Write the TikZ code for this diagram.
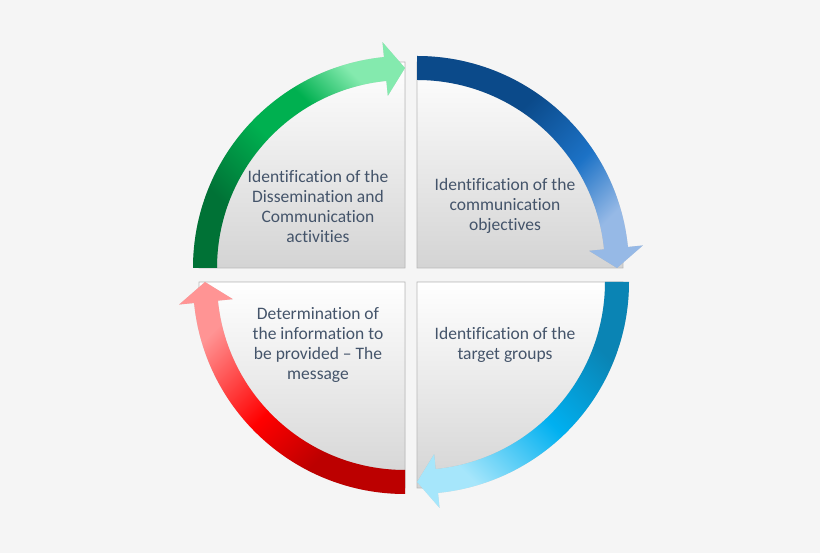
\documentclass[tikz,border=0pt]{standalone}
\usepackage{fontspec}
\setmainfont{Carlito}[Ligatures=NoCommon]
\usepackage{tikz}
\usepackage{xcolor}
\usetikzlibrary{positioning}
\definecolor{bgray}{HTML}{F5F5F5}
\definecolor{textslate}{HTML}{44546A}
\definecolor{greendark}{HTML}{007236}
\definecolor{greenmid}{HTML}{00B050}
\definecolor{greenlight}{HTML}{84EAAE}
\definecolor{bluedark}{HTML}{0B4A8A}
\definecolor{bluemid}{HTML}{1C72C6}
\definecolor{bluelight}{HTML}{96B9E6}
\definecolor{cyandark}{HTML}{0A84B4}
\definecolor{cyanmid}{HTML}{00B0F0}
\definecolor{cyanlight}{HTML}{A6E6FB}
\definecolor{reddark}{HTML}{BC0000}
\definecolor{redmid}{HTML}{FF0000}
\definecolor{redlight}{HTML}{FF9494}
% colour runs along each arrow, from its start (0bp) to its head (100bp)
\pgfdeclareverticalshading{greenrun}{100bp}{color(0bp)=(greendark); color(30bp)=(greendark); color(48bp)=(greenmid); color(60bp)=(greenmid); color(72bp)=(greenlight); color(100bp)=(greenlight)}
\pgfdeclareverticalshading{bluerun}{100bp}{color(0bp)=(bluedark); color(40bp)=(bluedark); color(58bp)=(bluemid); color(72bp)=(bluelight); color(100bp)=(bluelight)}
\pgfdeclareverticalshading{cyanrun}{100bp}{color(0bp)=(cyandark); color(30bp)=(cyandark); color(50bp)=(cyanmid); color(72bp)=(cyanlight); color(100bp)=(cyanlight)}
\pgfdeclareverticalshading{redrun}{100bp}{color(0bp)=(reddark); color(34bp)=(reddark); color(50bp)=(redmid); color(72bp)=(redlight); color(100bp)=(redlight)}
\newcommand{\quarterpath}[1]{(0pt,0pt) -- (#1:206pt) arc[start angle=#1, end angle=#1-90, radius=206pt] -- cycle}
\newcommand{\arrowpath}[1]{(#1:212pt) arc[start angle=#1, end angle=#1-84.3, radius=212pt]
  -- (#1-84.3:227pt) -- (#1-90:200pt) -- (#1-84.3:173pt) -- (#1-84.3:188pt)
  arc[start angle=#1-84.3, end angle=#1, radius=188pt] -- cycle}

\begin{document}
\begin{tikzpicture}[x=1pt, y=1pt,
    quarter/.style={top color=white, middle color=black!4, bottom color=black!17, draw=black!28, line width=0.7pt},
    quartershadow/.style={fill=black!22, xshift=0.8pt, yshift=-1.6pt},
    arrowshadow/.style={fill=black, opacity=0.12, xshift=1.5pt, yshift=-1.5pt},
    steptext/.style={align=center, text=textslate, font=\fontsize{17.5}{20}\selectfont}]
        \fill[bgray] (0,0) rectangle (820,553);
        \useasboundingbox (0,0) rectangle (820,553);

        \coordinate (TL) at (405,285);
        \coordinate (TR) at (417,285);
        \coordinate (BR) at (417,271);
        \coordinate (BL) at (405,271);

        % quarters
        \fill[quartershadow, shift={(TL)}] \quarterpath{180};
        \fill[quartershadow, shift={(TR)}] \quarterpath{90};
        \fill[quartershadow, shift={(BR)}] \quarterpath{0};
        \fill[quartershadow, shift={(BL)}] \quarterpath{-90};
        \shade[quarter, shift={(TL)}] \quarterpath{180};
        \shade[quarter, shift={(TR)}] \quarterpath{90};
        \shade[quarter, shift={(BR)}] \quarterpath{0};
        \shade[quarter, shift={(BL)}] \quarterpath{-90};

        % arrows
        \fill[arrowshadow, shift={(TL)}] \arrowpath{180};
        \fill[arrowshadow, shift={(TR)}] \arrowpath{90};
        \fill[arrowshadow, shift={(BR)}] \arrowpath{0};
        \fill[arrowshadow, shift={(BL)}] \arrowpath{-90};
        \shade[shift={(TL)}, shading=greenrun, shading angle=-45] \arrowpath{180};
        \shade[shift={(TR)}, shading=bluerun, shading angle=-135] \arrowpath{90};
        \shade[shift={(BR)}, shading=cyanrun, shading angle=135] \arrowpath{0};
        \shade[shift={(BL)}, shading=redrun, shading angle=45] \arrowpath{-90};

        \node[steptext] (activities) at (318,347) {Identification of the\\Dissemination and\\Communication\\activities};
        \node[steptext] (objectives) at (505,347) {Identification of the\\communication\\objectives};
        \node[steptext] (groups) at (505,208) {Identification of the\\target groups};
        \node[steptext] (message) at (318,208) {Determination of\\the information to\\be provided -- The\\message};
    \end{tikzpicture}
\end{document}
